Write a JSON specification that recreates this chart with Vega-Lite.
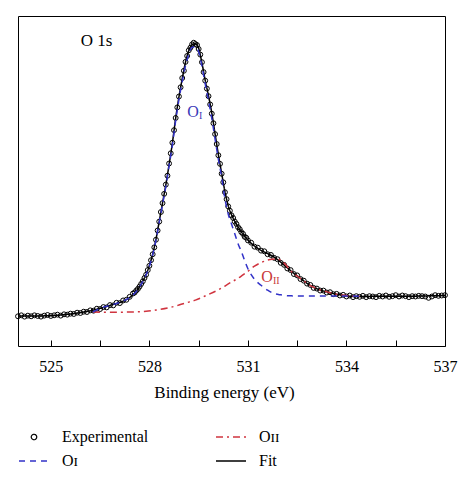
{
  "$schema": "https://vega.github.io/schema/vega-lite/v6.json",
  "width": 427,
  "height": 330,
  "autosize": {"type": "none"},
  "padding": {"left": 18, "top": 16, "right": 29, "bottom": 139},
  "config": {"view": {"stroke": "black", "strokeWidth": 1}, "font": "Liberation Serif"},
  "datasets": {
    "exp": [
      {"energy":524.0,"intensity":9.0},{"energy":524.1,"intensity":9.3},{"energy":524.2,"intensity":8.9},{"energy":524.3,"intensity":9.2},{"energy":524.4,"intensity":9.0},{"energy":524.5,"intensity":9.3},{"energy":524.6,"intensity":9.1},{"energy":524.7,"intensity":8.9},{"energy":524.8,"intensity":9.2},{"energy":524.9,"intensity":9.4},
      {"energy":525.0,"intensity":9.1},{"energy":525.1,"intensity":9.3},{"energy":525.2,"intensity":9.5},{"energy":525.3,"intensity":9.2},{"energy":525.4,"intensity":9.6},{"energy":525.5,"intensity":9.5},{"energy":525.6,"intensity":9.8},{"energy":525.7,"intensity":9.7},{"energy":525.8,"intensity":10.1},{"energy":525.9,"intensity":10.0},
      {"energy":526.0,"intensity":10.4},{"energy":526.1,"intensity":10.3},{"energy":526.2,"intensity":10.8},{"energy":526.3,"intensity":10.7},{"energy":526.4,"intensity":11.3},{"energy":526.5,"intensity":11.2},{"energy":526.6,"intensity":11.8},{"energy":526.7,"intensity":11.7},{"energy":526.8,"intensity":12.4},{"energy":526.9,"intensity":12.3},
      {"energy":527.0,"intensity":13.1},{"energy":527.1,"intensity":13.0},{"energy":527.2,"intensity":13.8},{"energy":527.3,"intensity":14.0},{"energy":527.4,"intensity":14.9},{"energy":527.5,"intensity":15.9},{"energy":527.55,"intensity":16.2},{"energy":527.6,"intensity":16.8},{"energy":527.65,"intensity":17.3},{"energy":527.7,"intensity":18.0},
      {"energy":527.75,"intensity":18.8},{"energy":527.8,"intensity":19.6},{"energy":527.85,"intensity":20.6},{"energy":527.9,"intensity":21.6},{"energy":527.95,"intensity":23.0},{"energy":528.0,"intensity":24.3},{"energy":528.05,"intensity":26.0},{"energy":528.1,"intensity":27.8},{"energy":528.15,"intensity":29.9},{"energy":528.2,"intensity":32.2},
      {"energy":528.25,"intensity":35.0},{"energy":528.3,"intensity":37.7},{"energy":528.35,"intensity":40.6},{"energy":528.4,"intensity":43.3},{"energy":528.45,"intensity":46.1},{"energy":528.5,"intensity":48.9},{"energy":528.55,"intensity":51.6},{"energy":528.6,"intensity":55.3},{"energy":528.65,"intensity":58.4},{"energy":528.7,"intensity":61.6},
      {"energy":528.75,"intensity":65.4},{"energy":528.8,"intensity":69.1},{"energy":528.85,"intensity":72.3},{"energy":528.9,"intensity":75.6},{"energy":528.95,"intensity":78.4},{"energy":529.0,"intensity":81.2},{"energy":529.05,"intensity":83.4},{"energy":529.1,"intensity":86.1},{"energy":529.15,"intensity":87.9},{"energy":529.2,"intensity":89.6},
      {"energy":529.25,"intensity":90.4},{"energy":529.3,"intensity":91.4},{"energy":529.35,"intensity":91.9},{"energy":529.4,"intensity":91.5},{"energy":529.45,"intensity":91.2},{"energy":529.5,"intensity":90.0},{"energy":529.55,"intensity":88.3},{"energy":529.6,"intensity":86.0},{"energy":529.65,"intensity":83.0},{"energy":529.7,"intensity":80.4},
      {"energy":529.75,"intensity":78.0},{"energy":529.8,"intensity":75.7},{"energy":529.85,"intensity":73.2},{"energy":529.9,"intensity":70.4},{"energy":529.95,"intensity":67.5},{"energy":530.0,"intensity":64.2},{"energy":530.05,"intensity":61.2},{"energy":530.1,"intensity":57.8},{"energy":530.15,"intensity":55.2},{"energy":530.2,"intensity":52.2},
      {"energy":530.25,"intensity":49.6},{"energy":530.3,"intensity":46.6},{"energy":530.35,"intensity":44.5},{"energy":530.4,"intensity":42.3},{"energy":530.45,"intensity":41.0},{"energy":530.5,"intensity":39.6},{"energy":530.55,"intensity":38.8},{"energy":530.6,"intensity":37.7},{"energy":530.65,"intensity":37.0},{"energy":530.7,"intensity":36.0},
      {"energy":530.75,"intensity":35.4},{"energy":530.8,"intensity":34.5},{"energy":530.85,"intensity":34.0},{"energy":530.9,"intensity":33.1},{"energy":530.95,"intensity":32.8},{"energy":531.0,"intensity":32.0},{"energy":531.1,"intensity":31.3},{"energy":531.2,"intensity":30.1},{"energy":531.3,"intensity":29.8},{"energy":531.4,"intensity":28.9},
      {"energy":531.5,"intensity":28.7},{"energy":531.6,"intensity":27.8},{"energy":531.7,"intensity":27.6},{"energy":531.8,"intensity":26.7},{"energy":531.9,"intensity":26.3},{"energy":532.0,"intensity":25.2},{"energy":532.1,"intensity":24.6},{"energy":532.2,"intensity":23.5},{"energy":532.3,"intensity":23.0},{"energy":532.4,"intensity":21.8},
      {"energy":532.5,"intensity":21.4},{"energy":532.6,"intensity":20.3},{"energy":532.7,"intensity":19.8},{"energy":532.8,"intensity":18.9},{"energy":532.9,"intensity":18.5},{"energy":533.0,"intensity":17.6},{"energy":533.1,"intensity":17.4},{"energy":533.2,"intensity":16.8},{"energy":533.3,"intensity":16.8},{"energy":533.4,"intensity":16.2},
      {"energy":533.5,"intensity":16.3},{"energy":533.6,"intensity":15.7},{"energy":533.7,"intensity":15.8},{"energy":533.8,"intensity":15.3},{"energy":533.9,"intensity":15.5},{"energy":534.0,"intensity":15.0},{"energy":534.1,"intensity":15.3},{"energy":534.2,"intensity":14.8},{"energy":534.3,"intensity":15.1},{"energy":534.4,"intensity":14.9},
      {"energy":534.5,"intensity":15.2},{"energy":534.6,"intensity":14.8},{"energy":534.7,"intensity":15.1},{"energy":534.8,"intensity":15.0},{"energy":534.9,"intensity":14.8},{"energy":535.0,"intensity":15.2},{"energy":535.1,"intensity":15.0},{"energy":535.2,"intensity":15.3},{"energy":535.3,"intensity":14.9},{"energy":535.4,"intensity":15.1},
      {"energy":535.5,"intensity":15.4},{"energy":535.6,"intensity":15.0},{"energy":535.7,"intensity":15.3},{"energy":535.8,"intensity":15.1},{"energy":535.9,"intensity":14.8},{"energy":536.0,"intensity":15.1},{"energy":536.1,"intensity":15.0},{"energy":536.2,"intensity":15.2},{"energy":536.3,"intensity":15.1},{"energy":536.4,"intensity":15.0},
      {"energy":536.5,"intensity":14.6},{"energy":536.6,"intensity":15.0},{"energy":536.7,"intensity":15.4},{"energy":536.8,"intensity":15.2},{"energy":536.9,"intensity":15.3},{"energy":537.0,"intensity":15.4}
    ],
    "curves": [
      {"series":"Fit","energy":524.0,"intensity":9.1},{"series":"Fit","energy":524.5,"intensity":9.1},{"series":"Fit","energy":525.0,"intensity":9.2},{"series":"Fit","energy":525.5,"intensity":9.6},{"series":"Fit","energy":526.0,"intensity":10.3},{"series":"Fit","energy":526.3,"intensity":10.9},{"series":"Fit","energy":526.5,"intensity":11.4},{"series":"Fit","energy":526.8,"intensity":12.3},{"series":"Fit","energy":527.0,"intensity":12.9},{"series":"Fit","energy":527.2,"intensity":13.6},
      {"series":"Fit","energy":527.4,"intensity":14.7},{"series":"Fit","energy":527.6,"intensity":16.6},{"series":"Fit","energy":527.7,"intensity":18.0},{"series":"Fit","energy":527.8,"intensity":19.7},{"series":"Fit","energy":527.9,"intensity":21.7},{"series":"Fit","energy":528.0,"intensity":24.4},{"series":"Fit","energy":528.1,"intensity":27.8},{"series":"Fit","energy":528.2,"intensity":32.3},{"series":"Fit","energy":528.3,"intensity":37.8},{"series":"Fit","energy":528.4,"intensity":43.3},
      {"series":"Fit","energy":528.5,"intensity":48.8},{"series":"Fit","energy":528.6,"intensity":55.0},{"series":"Fit","energy":528.7,"intensity":61.5},{"series":"Fit","energy":528.8,"intensity":69.0},{"series":"Fit","energy":528.9,"intensity":75.5},{"series":"Fit","energy":529.0,"intensity":81.0},{"series":"Fit","energy":529.1,"intensity":86.0},{"series":"Fit","energy":529.2,"intensity":89.5},{"series":"Fit","energy":529.3,"intensity":91.3},{"series":"Fit","energy":529.4,"intensity":91.6},
      {"series":"Fit","energy":529.5,"intensity":90.2},{"series":"Fit","energy":529.6,"intensity":85.8},{"series":"Fit","energy":529.7,"intensity":80.5},{"series":"Fit","energy":529.8,"intensity":75.8},{"series":"Fit","energy":529.9,"intensity":70.6},{"series":"Fit","energy":530.0,"intensity":64.3},{"series":"Fit","energy":530.1,"intensity":58.0},{"series":"Fit","energy":530.2,"intensity":52.3},{"series":"Fit","energy":530.3,"intensity":46.8},{"series":"Fit","energy":530.4,"intensity":42.5},
      {"series":"Fit","energy":530.5,"intensity":39.8},{"series":"Fit","energy":530.6,"intensity":37.8},{"series":"Fit","energy":530.7,"intensity":36.1},{"series":"Fit","energy":530.8,"intensity":34.6},{"series":"Fit","energy":530.9,"intensity":33.3},{"series":"Fit","energy":531.0,"intensity":32.1},{"series":"Fit","energy":531.2,"intensity":30.3},{"series":"Fit","energy":531.4,"intensity":29.0},{"series":"Fit","energy":531.6,"intensity":28.0},{"series":"Fit","energy":531.8,"intensity":26.9},
      {"series":"Fit","energy":532.0,"intensity":25.4},{"series":"Fit","energy":532.2,"intensity":23.7},{"series":"Fit","energy":532.4,"intensity":22.0},{"series":"Fit","energy":532.6,"intensity":20.5},{"series":"Fit","energy":532.8,"intensity":19.0},{"series":"Fit","energy":533.0,"intensity":17.8},{"series":"Fit","energy":533.2,"intensity":17.0},{"series":"Fit","energy":533.4,"intensity":16.4},{"series":"Fit","energy":533.6,"intensity":15.9},{"series":"Fit","energy":533.8,"intensity":15.5},
      {"series":"Fit","energy":534.0,"intensity":15.2},{"series":"Fit","energy":534.3,"intensity":15.0},{"series":"Fit","energy":534.6,"intensity":15.0},{"series":"Fit","energy":535.0,"intensity":15.1},{"series":"Fit","energy":535.5,"intensity":15.1},{"series":"Fit","energy":536.0,"intensity":15.1},{"series":"Fit","energy":536.5,"intensity":15.2},{"series":"Fit","energy":537.0,"intensity":15.3},
      {"series":"O_II","energy":526.28,"intensity":10.3},{"series":"O_II","energy":526.8,"intensity":10.2},{"series":"O_II","energy":527.4,"intensity":10.3},{"series":"O_II","energy":527.9,"intensity":10.5},{"series":"O_II","energy":528.2,"intensity":10.9},{"series":"O_II","energy":528.6,"intensity":11.6},{"series":"O_II","energy":528.9,"intensity":12.4},{"series":"O_II","energy":529.2,"intensity":13.3},{"series":"O_II","energy":529.4,"intensity":13.9},{"series":"O_II","energy":529.75,"intensity":15.4},
      {"series":"O_II","energy":530.15,"intensity":17.3},{"series":"O_II","energy":530.45,"intensity":19.1},{"series":"O_II","energy":530.76,"intensity":20.9},{"series":"O_II","energy":530.97,"intensity":22.4},{"series":"O_II","energy":531.2,"intensity":24.2},{"series":"O_II","energy":531.43,"intensity":25.4},{"series":"O_II","energy":531.67,"intensity":26.2},{"series":"O_II","energy":531.88,"intensity":26.4},{"series":"O_II","energy":532.1,"intensity":25.2},{"series":"O_II","energy":532.28,"intensity":23.0},
      {"series":"O_II","energy":532.58,"intensity":20.6},{"series":"O_II","energy":532.98,"intensity":17.9},{"series":"O_II","energy":533.41,"intensity":16.4},{"series":"O_II","energy":533.8,"intensity":15.5},{"series":"O_II","energy":534.1,"intensity":15.2},{"series":"O_II","energy":534.4,"intensity":15.1},
      {"series":"O_I","energy":526.28,"intensity":10.3},{"series":"O_I","energy":526.5,"intensity":11.4},{"series":"O_I","energy":526.8,"intensity":12.3},{"series":"O_I","energy":527.0,"intensity":12.9},{"series":"O_I","energy":527.2,"intensity":13.6},{"series":"O_I","energy":527.4,"intensity":14.7},{"series":"O_I","energy":527.6,"intensity":16.5},{"series":"O_I","energy":527.7,"intensity":17.9},{"series":"O_I","energy":527.8,"intensity":19.6},{"series":"O_I","energy":527.9,"intensity":21.6},
      {"series":"O_I","energy":528.0,"intensity":24.2},{"series":"O_I","energy":528.1,"intensity":27.6},{"series":"O_I","energy":528.2,"intensity":32.1},{"series":"O_I","energy":528.3,"intensity":37.5},{"series":"O_I","energy":528.4,"intensity":42.9},{"series":"O_I","energy":528.5,"intensity":48.3},{"series":"O_I","energy":528.6,"intensity":54.6},{"series":"O_I","energy":528.7,"intensity":60.9},{"series":"O_I","energy":528.8,"intensity":68.3},{"series":"O_I","energy":528.9,"intensity":74.7},
      {"series":"O_I","energy":529.0,"intensity":80.1},{"series":"O_I","energy":529.1,"intensity":85.0},{"series":"O_I","energy":529.2,"intensity":88.4},{"series":"O_I","energy":529.3,"intensity":90.5},{"series":"O_I","energy":529.4,"intensity":90.6},{"series":"O_I","energy":529.5,"intensity":89.2},{"series":"O_I","energy":529.6,"intensity":84.8},{"series":"O_I","energy":529.7,"intensity":79.4},{"series":"O_I","energy":529.8,"intensity":74.4},{"series":"O_I","energy":529.9,"intensity":69.0},
      {"series":"O_I","energy":530.0,"intensity":62.7},{"series":"O_I","energy":530.1,"intensity":56.6},{"series":"O_I","energy":530.2,"intensity":51.2},{"series":"O_I","energy":530.3,"intensity":44.6},{"series":"O_I","energy":530.4,"intensity":40.0},{"series":"O_I","energy":530.5,"intensity":37.0},{"series":"O_I","energy":530.6,"intensity":34.0},{"series":"O_I","energy":530.7,"intensity":31.0},{"series":"O_I","energy":530.8,"intensity":28.6},{"series":"O_I","energy":530.9,"intensity":25.9},
      {"series":"O_I","energy":531.0,"intensity":23.4},{"series":"O_I","energy":531.1,"intensity":21.6},{"series":"O_I","energy":531.2,"intensity":20.2},{"series":"O_I","energy":531.4,"intensity":18.4},{"series":"O_I","energy":531.6,"intensity":16.9},{"series":"O_I","energy":531.8,"intensity":15.9},{"series":"O_I","energy":532.0,"intensity":15.5},{"series":"O_I","energy":532.3,"intensity":15.2},{"series":"O_I","energy":532.8,"intensity":15.15},{"series":"O_I","energy":533.5,"intensity":15.15},
      {"series":"O_I","energy":534.4,"intensity":15.1}
    ],
    "notes": [
      {"energy":529.33,"intensity":70.9,"main":"O","sub":"I","series":"O_I"},
      {"energy":531.58,"intensity":20.8,"main":"O","sub":"II","series":"O_II"}
    ],
    "heading": [
      {"energy":525.91,"intensity":92.5,"label":"O 1s"}
    ]
  },
  "encoding": {
    "x": {"field":"energy","type":"quantitative","scale":{"domain":[524,537],"nice":false,"zero":false},
      "axis":{"title":"Binding energy (eV)","values":[525,526.5,528,529.5,531,532.5,534,535.5,537],
        "labelExpr":"datum.value % 3 == 0 ? datum.label : ''","labelFlush":false,"domain":false,"grid":false,"tickSize":-6,"tickColor":"black","tickWidth":1,
        "labelPadding":18,"labelFont":"Liberation Serif","labelFontSize":16,"labelColor":"black",
        "titleFont":"Liberation Serif","titleFontSize":17,"titleFontWeight":"normal","titleColor":"black","titlePadding":10,"titleX":206}},
    "y": {"field":"intensity","type":"quantitative","scale":{"domain":[0,100],"nice":false},"axis":null}
  },
  "layer": [
    {
      "data": {"name":"exp"},
      "mark": {"type":"point","filled":false,"size":24,"strokeWidth":1,"opacity":1},
      "encoding": {"color": {"datum":"Experimental","type":"nominal"}}
    },
    {
      "data": {"name":"curves"},
      "mark": {"type":"line","strokeWidth":1.5,"interpolate":"monotone"},
      "encoding": {
        "detail": {"field":"series"},
        "strokeDash": {"field":"series","type":"nominal","scale":{"domain":["Fit","O_II","O_I"],"range":[[1,0],[7,4,2,4],[6,5]]},"legend":null},
        "color": {"field":"series","type":"nominal",
          "scale":{"domain":["Experimental","O_I","O_II","Fit"],"range":["black","#3232c8","#d0343f","black"]},
          "legend":{"title":null,"orient":"none","legendX":8,"legendY":413,"columns":2,"columnPadding":64,"rowPadding":8,
            "labelFont":"Liberation Serif","labelFontSize":16,"labelColor":"black","labelOffset":20,"padding":0,
            "labelExpr":"datum.value === 'O_I' ? 'Oɪ' : datum.value === 'O_II' ? 'Oɪɪ' : datum.value",
            "symbolType":"stroke","symbolSize":900,"symbolFillColor":"white",
            "encode":{"symbols":{"update":{
              "shape":{"signal":"datum.value === 'Experimental' ? 'circle' : 'stroke'"},
              "size":{"signal":"datum.value === 'Experimental' ? 30 : 900"},
              "strokeDash":{"signal":"datum.value === 'O_I' ? [6,5] : datum.value === 'O_II' ? [7,4,2,4] : [1,0]"},
              "strokeWidth":{"signal":"datum.value === 'Experimental' ? 1.2 : 1.5"},
              "fill":{"value":"white"},
              "fillOpacity":{"value":1},
              "opacity":{"value":1}
            }}}}
        }
      }
    },
    {
      "data": {"name":"notes"},
      "transform": [{"filter":"datum.series === 'O_I'"}],
      "mark": {"type":"text","font":"Liberation Serif","fontSize":16,"align":"center","baseline":"middle","color":"#3a3ab8"},
      "encoding": {"text":{"field":"main"}}
    },
    {
      "data": {"name":"notes"},
      "transform": [{"filter":"datum.series === 'O_I'"}],
      "mark": {"type":"text","font":"Liberation Serif","fontSize":10,"align":"left","baseline":"middle","dx":6,"dy":4,"color":"#3a3ab8"},
      "encoding": {"text":{"field":"sub"}}
    },
    {
      "data": {"name":"notes"},
      "transform": [{"filter":"datum.series === 'O_II'"}],
      "mark": {"type":"text","font":"Liberation Serif","fontSize":16,"align":"center","baseline":"middle","color":"#c83a3a"},
      "encoding": {"text":{"field":"main"}}
    },
    {
      "data": {"name":"notes"},
      "transform": [{"filter":"datum.series === 'O_II'"}],
      "mark": {"type":"text","font":"Liberation Serif","fontSize":10,"align":"left","baseline":"middle","dx":6,"dy":4,"color":"#c83a3a"},
      "encoding": {"text":{"field":"sub"}}
    },
    {
      "data": {"name":"heading"},
      "mark": {"type":"text","font":"Liberation Serif","fontSize":17,"align":"left","baseline":"middle","color":"black"},
      "encoding": {"text":{"field":"label"}}
    }
  ]
}
